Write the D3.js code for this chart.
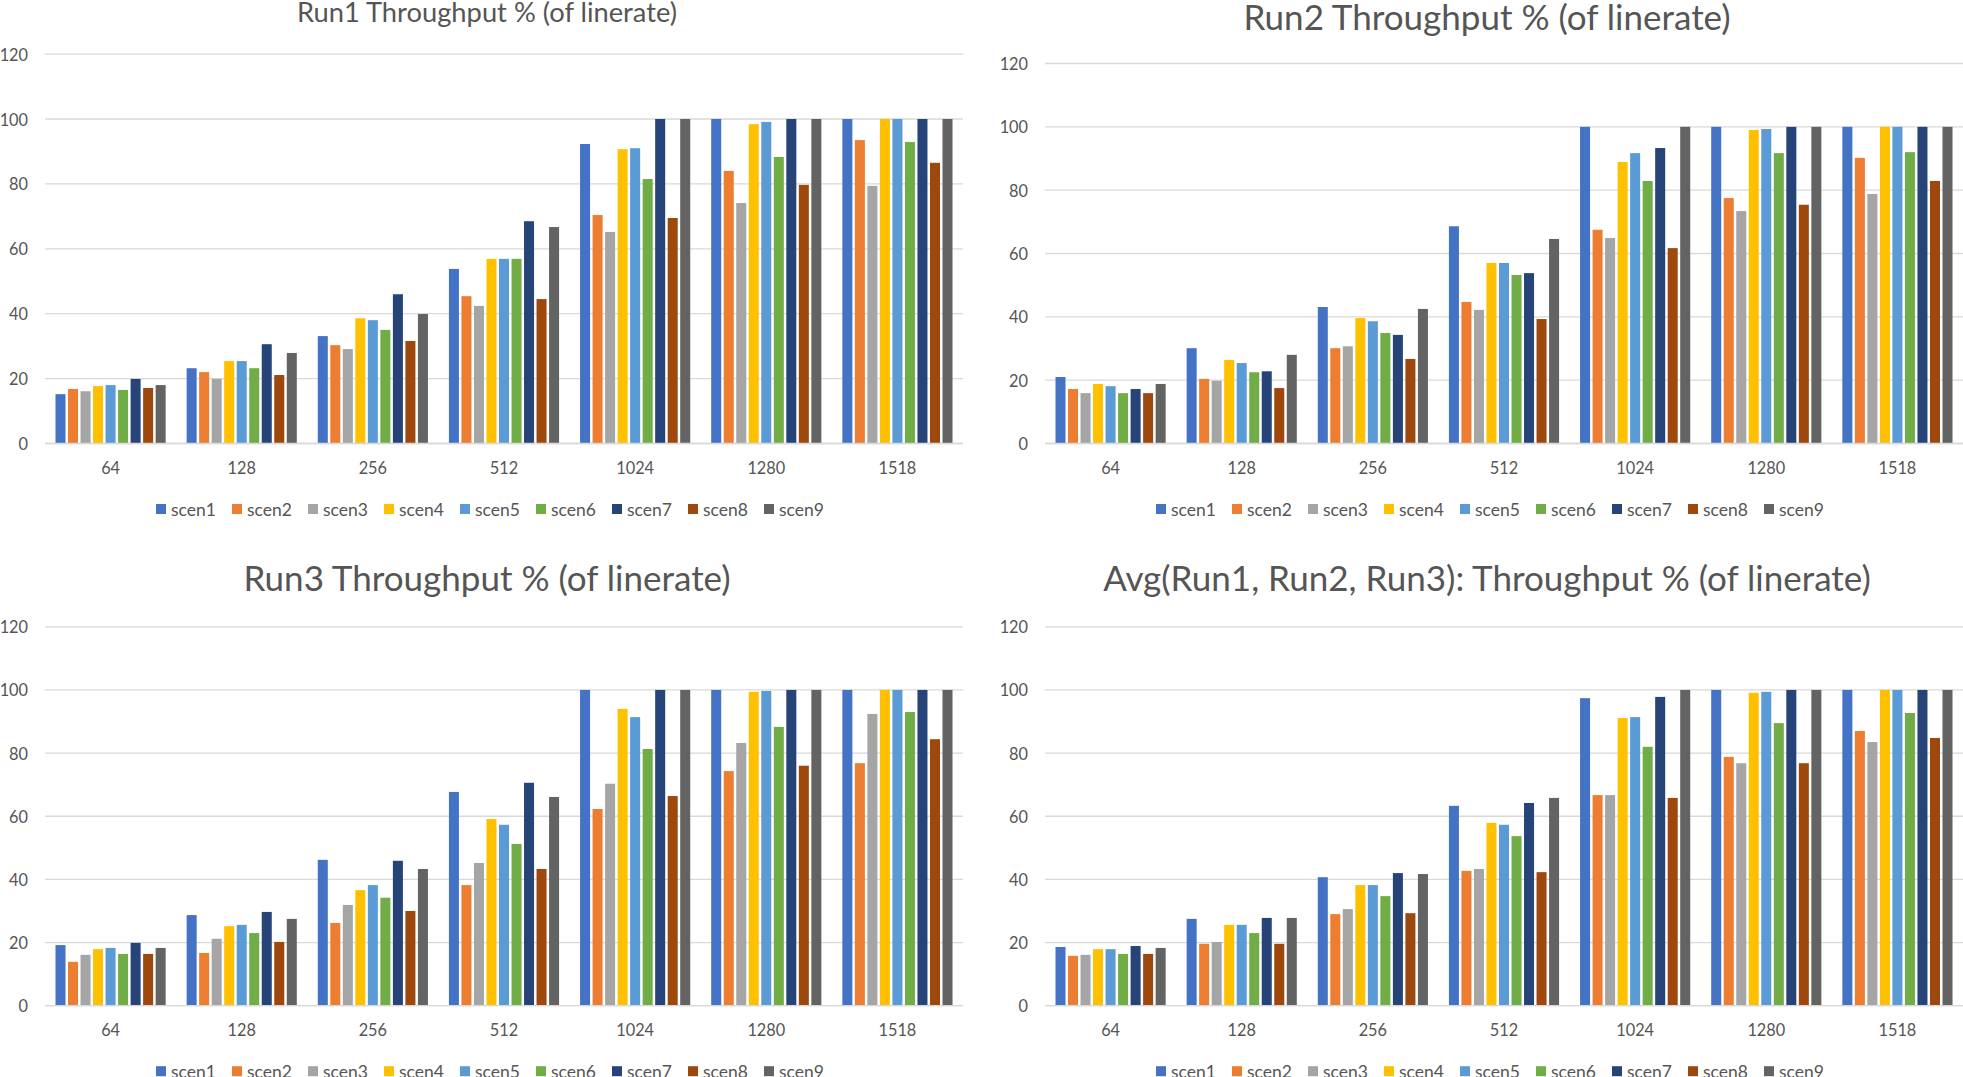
<!DOCTYPE html>
<html>
<head>
<meta charset="utf-8">
<script src="https://cdn.jsdelivr.net/npm/d3@7"></script>
<style>
  html, body { margin: 0; padding: 0; background: #fff; }
  svg { display: block; }
  text { font-family: Lato, "Open Sans", sans-serif; fill: #555; }
</style>
</head>
<body>
<svg id="chart"></svg>
<script>
const categories = ["64", "128", "256", "512", "1024", "1280", "1518"];
const series = ["scen1", "scen2", "scen3", "scen4", "scen5", "scen6", "scen7", "scen8", "scen9"];
const colors = ["#4472C4", "#ED7D31", "#A5A5A5", "#FFC000", "#5B9BD5", "#70AD47", "#264478", "#9E480E", "#636363"];
const yTicks = [0, 20, 40, 60, 80, 100, 120];

const titles = [
  "Run1 Throughput % (of linerate)",
  "Run2 Throughput % (of linerate)",
  "Run3 Throughput % (of linerate)",
  "Avg(Run1, Run2, Run3): Throughput % (of linerate)"
];

// one row per category, one value per scenario
const run1 = [
  [15.2, 16.8, 16.1, 17.7, 18.0, 16.5, 19.9, 17.1, 18.0],
  [23.2, 22.0, 19.9, 25.4, 25.4, 23.2, 30.6, 21.1, 27.9],
  [33.1, 30.3, 29.1, 38.6, 38.0, 35.0, 46.0, 31.6, 39.9],
  [53.8, 45.4, 42.4, 56.9, 56.9, 56.9, 68.5, 44.5, 66.7],
  [92.3, 70.4, 65.2, 90.7, 91.0, 81.5, 100, 69.5, 100],
  [100, 84.0, 74.1, 98.4, 99.1, 88.3, 100, 79.7, 100],
  [100, 93.5, 79.4, 100, 100, 92.9, 100, 86.5, 100]
];
const run2 = [
  [21.0, 17.2, 15.9, 18.8, 18.1, 15.9, 17.2, 15.9, 18.8],
  [30.1, 20.4, 19.8, 26.4, 25.4, 22.5, 22.8, 17.5, 28.0],
  [43.1, 30.1, 30.7, 39.6, 38.6, 34.9, 34.3, 26.7, 42.5],
  [68.6, 44.7, 42.2, 57.0, 57.0, 53.2, 53.8, 39.3, 64.6],
  [100, 67.5, 64.9, 88.9, 91.7, 82.9, 93.3, 61.7, 100],
  [100, 77.5, 73.4, 99.0, 99.3, 91.7, 100, 75.4, 100],
  [100, 90.2, 78.8, 100, 100, 92.0, 100, 82.9, 100]
];
const run3 = [
  [19.2, 13.9, 16.1, 17.9, 18.3, 16.4, 19.9, 16.4, 18.3],
  [28.7, 16.7, 21.2, 25.2, 25.6, 23.0, 29.7, 20.2, 27.5],
  [46.2, 26.2, 31.9, 36.6, 38.2, 34.2, 45.9, 30.0, 43.3],
  [67.7, 38.2, 45.2, 59.1, 57.3, 51.2, 70.6, 43.3, 66.1],
  [100, 62.3, 70.3, 94.0, 91.4, 81.3, 100, 66.4, 100],
  [100, 74.3, 83.2, 99.4, 99.7, 88.3, 100, 76.0, 100],
  [100, 76.8, 92.4, 100, 100, 93.0, 100, 84.4, 100]
];
const avgRun = [
  [18.6, 15.8, 16.1, 17.9, 17.9, 16.4, 18.9, 16.4, 18.3],
  [27.5, 19.6, 20.2, 25.6, 25.6, 23.0, 27.8, 19.6, 27.8],
  [40.7, 29.0, 30.6, 38.2, 38.2, 34.7, 42.0, 29.3, 41.7],
  [63.3, 42.7, 43.3, 57.9, 57.3, 53.7, 64.2, 42.3, 65.8],
  [97.4, 66.7, 66.7, 91.1, 91.4, 82.0, 97.8, 65.8, 100],
  [100, 78.8, 76.8, 99.1, 99.4, 89.5, 100, 76.8, 100],
  [100, 87.0, 83.5, 100, 100, 92.7, 100, 84.8, 100]
];

const width = 1963, height = 1077;

// panel placement (pixels)
const panels = [
  { data: run1,   title: titles[0], left: 45,   right: 963,  top: 54.1,  bottom: 443.5,  cx: 487,  titleY: 22,    titleSize: 27.3 },
  { data: run2,   title: titles[1], left: 1045, right: 1963, top: 63.5,  bottom: 443.5,  cx: 1487, titleY: 29.7,  titleSize: 35 },
  { data: run3,   title: titles[2], left: 45,   right: 963,  top: 626.8, bottom: 1005.7, cx: 487,  titleY: 590.8, titleSize: 35 },
  { data: avgRun, title: titles[3], left: 1045, right: 1963, top: 626.8, bottom: 1005.7, cx: 1487, titleY: 590.8, titleSize: 35 }
];

const svg = d3.select("#chart")
  .attr("width", width)
  .attr("height", height);

panels.forEach(p => drawPanel(p));

function drawPanel(p) {
  const g = svg.append("g");

  const y = d3.scaleLinear()
    .domain([0, 120])
    .range([p.bottom, p.top]);

  const x0 = d3.scaleBand()
    .domain(categories)
    .range([p.left, p.right])
    .paddingInner(0.16)
    .paddingOuter(0.08);

  const x1 = d3.scaleBand()
    .domain(series)
    .range([0, x0.bandwidth()])
    .paddingInner(0.2);

  // gridlines
  g.append("g")
    .selectAll("line")
    .data(yTicks)
    .join("line")
      .attr("x1", p.left)
      .attr("x2", p.right)
      .attr("y1", d => y(d))
      .attr("y2", d => y(d))
      .attr("stroke", "#d9d9d9")
      .attr("stroke-width", 1.3);

  // y labels
  g.append("g")
    .selectAll("text")
    .data(yTicks)
    .join("text")
      .attr("x", p.left - 17)
      .attr("y", d => y(d))
      .attr("text-anchor", "end")
      .attr("dominant-baseline", "central")
      .style("font-size", "16.3px")
      .text(d => d);

  // bars
  const groups = g.append("g")
    .selectAll("g")
    .data(p.data)
    .join("g")
      .attr("transform", (d, i) => `translate(${x0(categories[i])},0)`);

  groups.selectAll("rect")
    .data(d => d.map((v, j) => ({ key: series[j], value: v, color: colors[j] })))
    .join("rect")
      .attr("x", d => x1(d.key))
      .attr("width", x1.bandwidth())
      .attr("y", d => y(d.value))
      .attr("height", d => y(0) - y(d.value))
      .attr("fill", d => d.color);

  // baseline drawn over bars
  g.append("line")
    .attr("x1", p.left)
    .attr("x2", p.right)
    .attr("y1", y(0))
    .attr("y2", y(0))
    .attr("stroke", "#d9d9d9")
    .attr("stroke-width", 1.3);

  // x labels
  g.append("g")
    .selectAll("text")
    .data(categories)
    .join("text")
      .attr("x", d => x0(d) + x0.bandwidth() / 2)
      .attr("y", p.bottom + 24)
      .attr("text-anchor", "middle")
      .attr("dominant-baseline", "central")
      .style("font-size", "16.3px")
      .text(d => d);

  // title
  g.append("text")
    .attr("x", p.cx)
    .attr("y", p.titleY)
    .attr("text-anchor", "middle")
    .style("font-size", p.titleSize + "px")
    .text(p.title);

  // legend
  const pitch = 76;
  const legendW = (series.length - 1) * pitch + 58;
  const lx = p.cx + 2 - legendW / 2;
  const ly = p.bottom + 65.5;
  const item = g.append("g")
    .selectAll("g")
    .data(series)
    .join("g")
      .attr("transform", (d, i) => `translate(${lx + i * pitch},${ly})`);
  item.append("rect")
    .attr("x", 0)
    .attr("y", -5)
    .attr("width", 10)
    .attr("height", 10)
    .attr("fill", (d, i) => colors[i]);
  item.append("text")
    .attr("x", 15)
    .attr("y", 0)
    .attr("dominant-baseline", "central")
    .style("font-size", "17.5px")
    .text(d => d);
}
</script>
</body>
</html>
